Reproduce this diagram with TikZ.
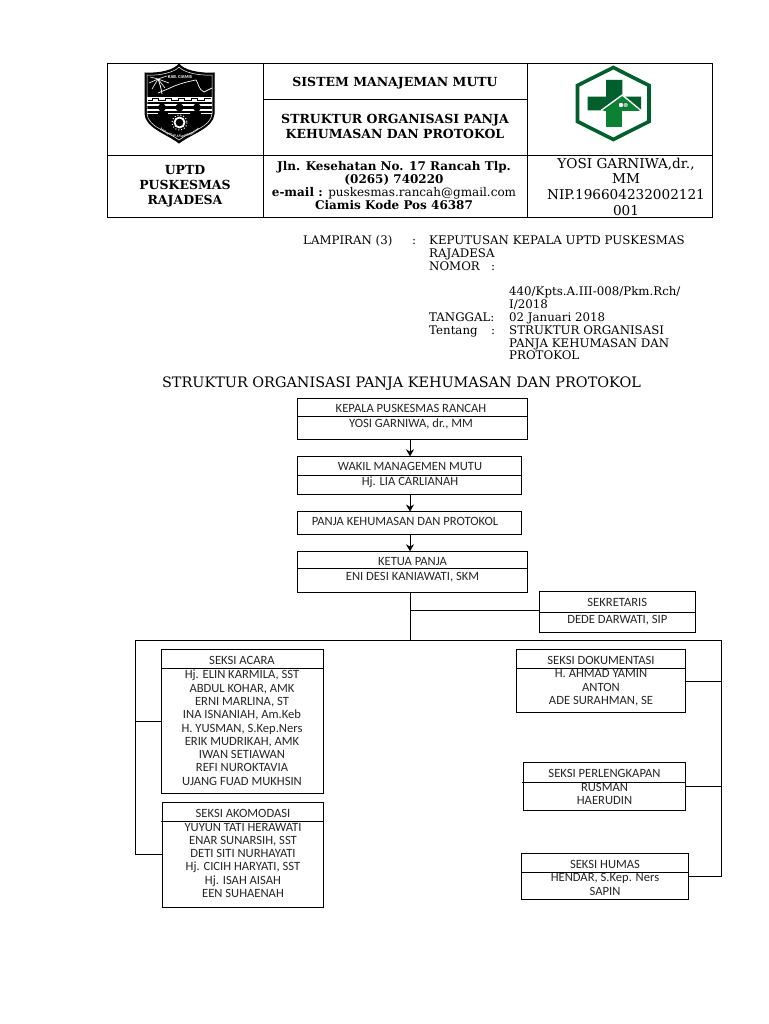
\documentclass[tikz,border=0pt]{standalone}
\usepackage{fontspec}
\setmainfont{Carlito}
\newfontfamily\bookfont{DejaVu Serif}
\usetikzlibrary{shapes, arrows, positioning, calc, arrows.meta, decorations.text}

\tikzset{
  orgbox/.style={draw=black, line width=0.8, inner sep=0, outer sep=0},
  cell/.style={draw=black, line width=0.8, inner sep=0, outer sep=0},
  orgtext/.style={font=\fontsize{12.6}{13.3}\selectfont, align=center, inner sep=0, text=black!85},
  headtext/.style={font=\bookfont\bfseries\fontsize{12.5}{15}\selectfont, align=center, inner sep=0},
  smalltext/.style={font=\bookfont\bfseries\fontsize{12}{13}\selectfont, align=center, inner sep=0},
  signtext/.style={font=\bookfont\fontsize{13.6}{15.7}\selectfont, align=center, inner sep=0},
  lettertext/.style={font=\bookfont\fontsize{11.8}{12.6}\selectfont, anchor=west, inner sep=0, text height=9, text depth=0},
  link/.style={draw=black, line width=0.8},
  flow/.style={draw=black, line width=0.9, -{Stealth[length=7, width=8]}}
}

\begin{document}
\begin{tikzpicture}[x=1pt, y=-1pt]
% colours of the logo
  \definecolor{darkgreen}{RGB}{0,95,45}
  \definecolor{midgreen}{RGB}{10,130,50}

  \useasboundingbox (0,0) rectangle (768,1024);
  \fill[white] (0,0) rectangle (768,1024);

  % header table
  \node[cell, minimum width=156, minimum height=92] (logocell) at (185,109) {};
  \node[cell, minimum width=264, minimum height=36] (titlecell) at (395,81) {};
  \node[cell, minimum width=264, minimum height=56] (subjectcell) at (395,127) {};
  \node[cell, minimum width=185, minimum height=92] (greencell) at (619.5,109) {};
  \node[cell, minimum width=156, minimum height=62] (unitcell) at (185,186) {};
  \node[cell, minimum width=264, minimum height=62] (addresscell) at (395,186) {};
  \node[cell, minimum width=185, minimum height=62] (signcell) at (619.5,186) {};

  \node[headtext] (title) at (395,83) {SISTEM MANAJEMAN MUTU};
  \node[headtext] (subject) at (395,126.5) {STRUKTUR ORGANISASI PANJA\\KEHUMASAN DAN PROTOKOL};
  \node[headtext] (unit) at (185,186) {UPTD\\PUSKESMAS\\RAJADESA};
  \node[smalltext] (address) at (394,185.5) {Jln. Kesehatan No. 17 Rancah Tlp.\\(0265) 740220\\e-mail : {\mdseries puskesmas.rancah@gmail.com}\\Ciamis Kode Pos 46387};
  \node[signtext] (sign) at (626,186.5) {YOSI GARNIWA,dr.,\\MM\\NIP.196604232002121\\001};

  % shield on the left
  \filldraw[fill=black, draw=black, line width=1] (179,64) .. controls (175,70) and (160,74) .. (145,73) -- (145,114) .. controls (146,128) and (168,134) .. (179,143) .. controls (190,134) and (213,128) .. (214,114) -- (214,73) .. controls (198,74) and (183,70) .. (179,64) -- cycle;
  \draw[white, line width=0.5] (179,67) .. controls (175,72) and (160,76) .. (147,75) -- (147,114) .. controls (148,127) and (169,132) .. (179,140) .. controls (189,132) and (211,127) .. (212,114) -- (212,75) .. controls (198,76) and (183,72) .. (179,67) -- cycle;
  \node[font=\bfseries\fontsize{4.6}{5}\selectfont, text=white, inner sep=0] (shieldname) at (180,77) {KAB. CIAMIS};
  % river and palm tree
  \draw[white, line width=0.7] (158,93) -- (170,88) .. controls (178,84) and (190,81) .. (196,80) .. controls (199,84) and (198,89) .. (204,92) -- (212,88);
  \draw[white, line width=0.8] (162,94) .. controls (161,88) and (160,84) .. (158,79);
  \draw[white, line width=0.6] (158,79) -- (150,77) (158,79) -- (149,83) (158,79) -- (152,89) (158,79) -- (167,76) (158,79) -- (169,83) (158,79) -- (165,88);
  % bands and hills
  \fill[white] (147,97) rectangle (212,102);
  \draw[black, line width=0.5] (148,100) -- (152,100) -- (152,98) -- (158,98) -- (158,100) -- (165,100) -- (165,98) -- (171,98) -- (171,100) -- (178,100) -- (178,98) -- (184,98) -- (184,100) -- (191,100) -- (191,98) -- (197,98) -- (197,100) -- (204,100) -- (204,98) -- (211,98);
  \fill[white] (147,104) rectangle (212,106);
  \fill[white] (147,109) rectangle (212,111);
  \fill[black] (162,107.5) circle (4) (179.5,107.5) circle (4) (197,107.5) circle (4);
  \draw[white, line width=1.8] (147,113.5) -- (158,113.5) (168,113.5) -- (190,113.5) (201,113.5) -- (212,113.5);
  % ring
  \draw[white, line width=1.8] (179.5,122.5) circle (5);
  \draw[white, line width=1, dotted] (179.5,122.5) circle (7.5);
  \path[postaction={decorate, decoration={text along path, text align=center, text={|\fontsize{3.6}{4}\selectfont\bfseries\color{white}|Mahayunan Ayuna Kadatuan}}}] (150,112) .. controls (155,130) and (170,138) .. (179.5,137) .. controls (190,138) and (205,130) .. (209,112);

  % green logo on the right
  \draw[darkgreen, line width=3.6, line join=miter] (613.3,67.5) -- (649,85.5) -- (649,121.5) -- (613.3,139.5) -- (577.5,121.5) -- (577.5,85.5) -- cycle;
  \fill[darkgreen] (606,80) rectangle (622.3,96.7) (587.7,96.7) rectangle (641,110.5);
  \fill[midgreen] (606,110) rectangle (622.3,127);
  \fill[midgreen] (603,111) -- (622.3,96) -- (640,111) -- cycle;
  \draw[white, line width=1.4] (601,110.5) -- (622.3,95) -- (641,110.5);
  \filldraw[fill=white, draw=darkgreen, line width=0.5] (621,105) circle (2.7);
  \filldraw[fill=white, draw=darkgreen, line width=0.5, fill opacity=0.6] (625.7,105) circle (2.7);

  % letter block
  \node[lettertext] (lampiran) at (303,240) {LAMPIRAN (3)};
  \node[lettertext] (lampirancolon) at (412,240) {:};
  \node[lettertext] (keputusan) at (429,240) {KEPUTUSAN KEPALA UPTD PUSKESMAS};
  \node[lettertext] (rajadesa) at (429,253) {RAJADESA};
  \node[lettertext] (nomor) at (429,266) {NOMOR};
  \node[lettertext] (nomorcolon) at (491,266) {:};
  \node[lettertext] (nomorvalue) at (509,291) {440/Kpts.A.III-008/Pkm.Rch/};
  \node[lettertext] (nomorvaluetwo) at (509,304) {I/2018};
  \node[lettertext] (tanggal) at (429,317) {TANGGAL:};
  \node[lettertext] (tanggalvalue) at (509,317) {02 Januari 2018};
  \node[lettertext] (tentang) at (429,330) {Tentang};
  \node[lettertext] (tentangcolon) at (491,330) {:};
  \node[lettertext] (tentangvalue) at (509,330) {STRUKTUR ORGANISASI};
  \node[lettertext] (tentangtwo) at (509,342.5) {PANJA KEHUMASAN DAN};
  \node[lettertext] (tentangthree) at (509,355) {PROTOKOL};
  \node[font=\bookfont\fontsize{14.4}{16}\selectfont, inner sep=0, text height=10, text depth=0] (charttitle) at (401.5,382) {STRUKTUR ORGANISASI PANJA KEHUMASAN DAN PROTOKOL};

  % top of the chart
  \node[orgbox, minimum width=229.6, minimum height=41] (kepala) at (412.5,418.5) {};
  \draw[link] (297.7,416.7) -- (527.3,416.7);
  \node[orgtext] (kepalahead) at (411,408.5) {KEPALA PUSKESMAS RANCAH};
  \node[orgtext] (kepalaname) at (411,423.5) {YOSI GARNIWA, dr., MM};

  \node[orgbox, minimum width=223.6, minimum height=38] (wakil) at (409.5,475.3) {};
  \draw[link] (297.7,475) -- (521.3,475);
  \node[orgtext] (wakilhead) at (410,466) {WAKIL MANAGEMEN MUTU};
  \node[orgtext] (wakilname) at (410,482.5) {Hj. LIA CARLIANAH};

  \node[orgbox, minimum width=223.6, minimum height=22.5] (panja) at (409.5,522.8) {};
  \node[orgtext] (panjahead) at (405,521.5) {PANJA KEHUMASAN DAN PROTOKOL};

  \node[orgbox, minimum width=229.6, minimum height=40.7] (ketua) at (412.5,571.6) {};
  \draw[link] (297.7,568.3) -- (527.3,568.3);
  \node[orgtext] (ketuahead) at (412.5,561) {KETUA PANJA};
  \node[orgtext] (ketuaname) at (412.5,577) {ENI DESI KANIAWATI, SKM};

  \node[orgbox, minimum width=155.3, minimum height=40.3] (sekretaris) at (617.3,611.8) {};
  \draw[link] (539.7,612) -- (695,612);
  \node[orgtext] (sekretarishead) at (617.3,602.5) {SEKRETARIS};
  \node[orgtext] (sekretarisname) at (617.3,620) {DEDE DARWATI, SIP};

  % left column
  \node[orgbox, minimum width=161.7, minimum height=143.3] (acara) at (242.2,721.3) {};
  \draw[link] (161.3,668.7) -- (323,668.7);
  \node[orgtext] (acarahead) at (242,660.7) {SEKSI ACARA};
  \node[orgtext] (acaranames) at (242,727.8) {Hj. ELIN KARMILA, SST\\ABDUL KOHAR, AMK\\ERNI MARLINA, ST\\INA ISNANIAH, Am.Keb\\H. YUSMAN, S.Kep.Ners\\ERIK MUDRIKAH, AMK\\IWAN SETIAWAN\\REFI NUROKTAVIA\\UJANG FUAD MUKHSIN};

  \node[orgbox, minimum width=160.3, minimum height=105] (akomodasi) at (242.8,854.5) {};
  \draw[link] (161,821.3) -- (323,821.3);
  \node[orgtext] (akomodasihead) at (243,813) {SEKSI AKOMODASI};
  \node[orgtext] (akomodasinames) at (243,860.3) {YUYUN TATI HERAWATI\\ENAR SUNARSIH, SST\\DETI SITI NURHAYATI\\Hj. CICIH HARYATI, SST\\Hj. ISAH AISAH\\EEN SUHAENAH};

  % right column
  \node[orgbox, minimum width=169, minimum height=62.6] (dokumentasi) at (601.2,681) {};
  \draw[link] (516.7,668.7) -- (685.7,668.7);
  \node[orgtext] (dokumentasihead) at (601,660.7) {SEKSI DOKUMENTASI};
  \node[orgtext] (dokumentasinames) at (601,687.8) {H. AHMAD YAMIN\\ANTON\\ADE SURAHMAN, SE};

  \node[orgbox, minimum width=162.4, minimum height=48] (perlengkapan) at (604.5,786.7) {};
  \draw[link] (522,782.7) -- (685.7,782.7);
  \node[orgtext] (perlengkapanhead) at (604.5,773.3) {SEKSI PERLENGKAPAN};
  \node[orgtext] (perlengkapannames) at (604.5,793.8) {RUSMAN\\HAERUDIN};

  \node[orgbox, minimum width=167, minimum height=45.3] (humas) at (605.2,876.3) {};
  \draw[link] (521.7,872) -- (688.7,872);
  \node[orgtext] (humashead) at (605,864) {SEKSI HUMAS};
  \node[orgtext] (humasnames) at (605,884.3) {HENDAR, S.Kep. Ners\\SAPIN};

  % connectors
  \coordinate (trunk) at (410,640);
  \coordinate (branch) at (410,610);
  \coordinate (busleft) at (135,640);
  \coordinate (busright) at (721,640);

  \draw[flow] (trunk |- kepala.south) -- (trunk |- wakil.north);
  \draw[flow] (trunk |- wakil.south) -- (trunk |- panja.north);
  \draw[flow] (trunk |- panja.south) -- (trunk |- ketua.north);
  \draw[link] (trunk |- ketua.south) -- (trunk);
  \draw[link] (branch) -- (branch -| sekretaris.west);
  \draw[link] (busleft) -- (busright);
  \draw[link] (busleft) -- (busleft |- akomodasi.west) -- (akomodasi.west);
  \draw[link] (busleft |- acara.west) -- (acara.west);
  \draw[link] (busright) -- (busright |- humas.east) -- (humas.east);
  \draw[link] (busright |- dokumentasi.east) -- (dokumentasi.east);
  \draw[link] (busright |- perlengkapan.east) -- (perlengkapan.east);
\end{tikzpicture}
\end{document}
